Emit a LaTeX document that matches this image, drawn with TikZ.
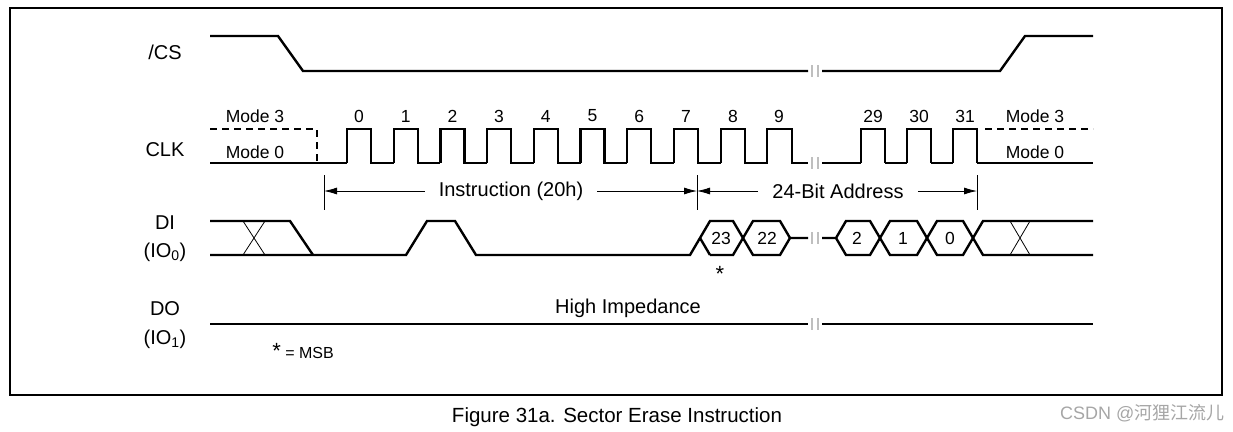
\documentclass[tikz,border=0pt]{standalone}
\usepackage{fontspec}
\setmainfont{Liberation Sans}
\newfontfamily\cjk{Noto Sans CJK SC}
\usetikzlibrary{arrows.meta}
\begin{document}
\begin{tikzpicture}[x=1pt,y=-1pt,
  sig/.style={line width=2.4pt,line join=miter},
  thin/.style={line width=0.8pt},
  lbl/.style={font=\fontsize{20}{22}\selectfont,align=center},
  sm/.style={font=\fontsize{17.5}{19}\selectfont},
  dim/.style={line width=0.8pt,-{Latex[length=13pt,width=7pt]}},
  brk/.style={line width=1.5pt,gray!50}]
\useasboundingbox (0,0) rectangle (1233,431);
\draw[line width=1.2pt] (10,8) rectangle (1222,395);
\node[font=\fontsize{20.5}{22}\selectfont] (cap) at (617,417) {Figure 31a. Sector Erase Instruction};
\node[font=\fontsize{18}{20}\selectfont,text=gray!70,anchor=east] (wm) at (1228,413) {CSDN @{\cjk 河狸江流儿}};
% labels
\node[lbl] (lcs) at (165,52) {/CS};
\node[lbl] (lclk) at (165,150) {CLK};
\node[lbl] (ldi) at (165,223) {DI};
\node[lbl] (ldi2) at (165,252) {(IO\textsubscript{0})};
\node[lbl] (ldo) at (165,309) {DO};
\node[lbl] (ldo2) at (165,339) {(IO\textsubscript{1})};
% CS
\draw[sig] (210,36) -- (278,36) -- (303,71) -- (808,71);
\draw[sig] (822,71) -- (1000,71) -- (1025,36) -- (1093,36);
% CLK
\draw[sig] (210,163) -- (347,163);
\draw[sig,dashed,dash pattern=on 7pt off 5pt] (210,129) -- (317,129) -- (317,163);
\foreach \i/\n in {0/0,1/1,2/2,3/3,4/4,5/5,6/6,7/7}{
  \pgfmathsetmacro\r{347+46.7*\i}
  \draw[sig] (\r,163) -- (\r,129) -- (\r+24,129) -- (\r+24,163) -- (\r+46.7,163);
  \node[sm] at (\r+12,116) {\n};
}
\draw[sig] (721,163) -- (721,129) -- (745,129) -- (745,163) -- (767,163) -- (767,129) -- (792,129) -- (792,163) -- (808,163);
\node[sm] at (733,116) {8};
\node[sm] at (779,116) {9};
\draw[sig] (822,163) -- (861,163);
\foreach \r/\n in {861/29,907/30,953/31}{
  \draw[sig] (\r,163) -- (\r,129) -- (\r+24,129) -- (\r+24,163);
  \node[sm] at (\r+12,116) {\n};
}
\draw[sig] (885,163) -- (907,163) (931,163) -- (953,163) (977,163) -- (1093,163);
\draw[sig,dashed,dash pattern=on 7pt off 5pt] (985,129) -- (1093,129);
\node[sm] (m3l) at (255,116) {Mode 3};
\node[sm] (m0l) at (255,152) {Mode 0};
\node[sm] (m3r) at (1035,116) {Mode 3};
\node[sm] (m0r) at (1035,152) {Mode 0};
% dimension row
\coordinate (t1) at (324,191); \coordinate (t2) at (697,191); \coordinate (t3) at (977,191);
\draw[thin] (324,175) -- (324,210) (697,175) -- (697,210) (977,175) -- (977,210);
\node[lbl,fill=white,inner sep=2pt] (ins) at (511,191) {Instruction (20h)};
\node[lbl,fill=white,inner sep=2pt] (adr) at (838,191) {24-Bit Address};
\draw[dim] (ins.west) ++(-12,0) -- (t1);
\draw[dim] (ins.east) ++(12,0) -- (t2);
\draw[dim] (adr.west) ++(-12,0) -- (t2);
\draw[dim] (adr.east) ++(12,0) -- (t3);
% DI
\draw[sig] (210,221) -- (290,221) -- (313,255);
\draw[sig] (210,255) -- (406,255) -- (427,221) -- (455,221) -- (476,255) -- (690,255) -- (710,221) -- (733,221) -- (753,255) -- (780,255) -- (790,238) -- (808,238);
\draw[thin] (243,221) -- (265,255) (265,221) -- (243,255);
\draw[sig] (710,255) -- (733,255) -- (753,221) -- (780,221) -- (790,238);
\draw[sig] (700,238) -- (710,255);
\node[sm] at (721,238) {23};
\node[sm] at (767,238) {22};
\node[font=\fontsize{22}{22}\selectfont] at (720,274) {*};
\draw[sig] (822,238) -- (836,238) -- (846,221) -- (870,221) -- (890,255) -- (917,255) -- (937,221) -- (963,221) -- (983,255) -- (1093,255);
\draw[sig] (836,238) -- (846,255) -- (870,255) -- (890,221) -- (917,221) -- (937,255) -- (963,255) -- (983,221) -- (1093,221);
\draw[thin] (1010,221) -- (1030,255) (1030,221) -- (1010,255);
\node[sm] at (857,238) {2};
\node[sm] at (903,238) {1};
\node[sm] at (950,238) {0};
% DO
\draw[sig] (210,324) -- (808,324);
\draw[sig] (822,324) -- (1093,324);
\node[lbl] (hi) at (628,308) {High Impedance};
\node[font=\fontsize{16}{18}\selectfont] (msb) at (303,351) {{\fontsize{22}{22}\selectfont *} = MSB};
% breaks
\foreach \y in {71,163,238,324}{
  \draw[brk] (812,\y-6) -- (812,\y+6) (818,\y-6) -- (818,\y+6);
}
\end{tikzpicture}
\end{document}
